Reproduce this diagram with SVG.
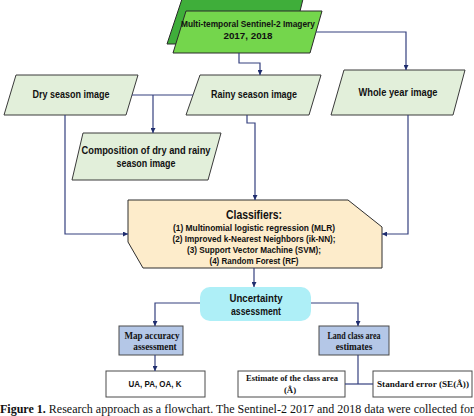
<svg xmlns="http://www.w3.org/2000/svg" width="474" height="416" viewBox="0 0 474 416">
<defs>
<marker id="ah" viewBox="0 0 10 10" refX="10" refY="5" markerWidth="5" markerHeight="5" orient="auto" markerUnits="userSpaceOnUse">
<path d="M0,0 L10,5 L0,10 z" fill="#1f2d6e"/>
</marker>
<style>
.sans{font-family:"Liberation Sans",Arial,sans-serif;font-weight:bold;fill:#111;text-anchor:middle}
.serif{font-family:"Liberation Serif","Times New Roman",serif;font-weight:bold;fill:#111;text-anchor:middle}
.season{fill:#e2efda;stroke:#3a3a3a;stroke-width:1}
.blue{fill:#b4c7e7;stroke:#4a4a4a;stroke-width:1}
.white{fill:#ffffff;stroke:#4a4a4a;stroke-width:1}
.conn{fill:none;stroke:#34407f;stroke-width:1.2}
</style>
</defs>
<rect width="474" height="416" fill="#ffffff"/>

<g id="sentinel">
<polygon points="182,-1 303,-1 292,44 167,44" fill="#3fae3a" stroke="#2a2a2a" stroke-width="1"/>
<polygon points="186,11 322,11 310,53 173,53" fill="#74d64c" stroke="#2a2a2a" stroke-width="1"/>
<text class="sans" x="248" y="27" font-size="9.8" textLength="134" lengthAdjust="spacingAndGlyphs">Multi-temporal Sentinel-2 Imagery</text>
<text class="sans" x="248" y="39" font-size="9.8">2017, 2018</text>
</g>

<g id="dry">
<polygon points="16,75 138,75 126,115 4,115" class="season"/>
<text class="sans" x="71" y="98" font-size="10" textLength="77" lengthAdjust="spacingAndGlyphs">Dry season image</text>
</g>

<g id="rainy">
<polygon points="200,75 321,75 309,115 186,115" class="season"/>
<text class="sans" x="254" y="98" font-size="10" textLength="86" lengthAdjust="spacingAndGlyphs">Rainy season image</text>
</g>

<g id="wholeyear">
<polygon points="344,70 465,70 453,115 331,115" class="season"/>
<text class="sans" x="398" y="96" font-size="10" textLength="79" lengthAdjust="spacingAndGlyphs">Whole year image</text>
</g>

<g id="composition">
<polygon points="83,133 221,133 208,180 72,180" class="season"/>
<text class="sans" x="146" y="154" font-size="10" textLength="129" lengthAdjust="spacingAndGlyphs">Composition of dry and rainy</text>
<text class="sans" x="146" y="167" font-size="10" textLength="59" lengthAdjust="spacingAndGlyphs">season image</text>
</g>

<g id="classifiers">
<polygon points="128,200 348,200 382,227 382,268 143,268 128,242" fill="#fdeccb" stroke="#2f2f2f" stroke-width="1"/>
<text class="sans" x="254" y="219" font-size="12.5" textLength="56" lengthAdjust="spacingAndGlyphs">Classifiers:</text>
<text class="sans" x="254" y="231" font-size="9.2" textLength="162" lengthAdjust="spacingAndGlyphs">(1) Multinomial logistic regression (MLR)</text>
<text class="sans" x="254" y="242" font-size="9.2" textLength="163" lengthAdjust="spacingAndGlyphs">(2) Improved k-Nearest Neighbors (ik-NN);</text>
<text class="sans" x="254" y="253" font-size="9.2" textLength="134" lengthAdjust="spacingAndGlyphs">(3) Support Vector Machine (SVM);</text>
<text class="sans" x="254" y="264" font-size="9.2" textLength="89" lengthAdjust="spacingAndGlyphs">(4) Random Forest (RF)</text>
</g>

<g id="uncertainty">
<rect x="200" y="287" width="111" height="34" rx="10" ry="10" fill="#aeeff7"/>
<text class="sans" x="256" y="302" font-size="10" textLength="53" lengthAdjust="spacingAndGlyphs">Uncertainty</text>
<text class="sans" x="256" y="315" font-size="10" textLength="50" lengthAdjust="spacingAndGlyphs">assessment</text>
</g>

<g id="mapaccuracy">
<rect x="119" y="326" width="64" height="29" class="blue"/>
<text class="serif" x="152" y="339" font-size="9.3" textLength="55" lengthAdjust="spacingAndGlyphs">Map accuracy</text>
<text class="serif" x="155" y="350" font-size="9.3">assessment</text>
</g>

<g id="landclass">
<rect x="319" y="326" width="70" height="29" class="blue"/>
<text class="serif" x="354" y="339" font-size="9.3" textLength="53" lengthAdjust="spacingAndGlyphs">Land class area</text>
<text class="serif" x="354" y="350" font-size="9.3">estimates</text>
</g>

<g id="ua">
<rect x="106" y="371" width="99" height="26" class="white"/>
<text class="sans" x="155" y="387" font-size="8.5" textLength="53" lengthAdjust="spacingAndGlyphs">UA, PA, OA, K</text>
</g>

<g id="estimate">
<rect x="238" y="371" width="107" height="26" class="white"/>
<text class="serif" x="292" y="381" font-size="8.8" textLength="92" lengthAdjust="spacingAndGlyphs">Estimate of the class area</text>
<text class="serif" x="290" y="393" font-size="8.8">(Â)</text>
</g>

<g id="stderr">
<rect x="373" y="371" width="99" height="26" class="white"/>
<text class="serif" x="423" y="387" font-size="8.8" textLength="92" lengthAdjust="spacingAndGlyphs">Standard error (SE(Â))</text>
</g>

<g id="connectors">
<path class="conn" d="M239,53 V63 H260 V75" marker-end="url(#ah)"/>
<path class="conn" d="M316,32 H406 V70" marker-end="url(#ah)"/>
<path class="conn" d="M132,95 H193"/>
<path class="conn" d="M153,95 V133" marker-end="url(#ah)"/>
<path class="conn" d="M65,115 V234 H128" marker-end="url(#ah)"/>
<path class="conn" d="M247,115 V123 H255 V200" marker-end="url(#ah)"/>
<path class="conn" d="M408,115 V234 H382" marker-end="url(#ah)"/>
<path class="conn" d="M254,268 V287" marker-end="url(#ah)"/>
<path class="conn" d="M200,303 H155 V326" marker-end="url(#ah)"/>
<path class="conn" d="M311,303 H358 V326" marker-end="url(#ah)"/>
<path class="conn" d="M155,355 V371" marker-end="url(#ah)"/>
<path class="conn" d="M358,355 V384"/>
<path class="conn" d="M345,384 H373"/>
</g>

<text x="0" y="413" font-family="'Liberation Serif','Times New Roman',serif" font-size="11.5" fill="#111" textLength="474" lengthAdjust="spacingAndGlyphs"><tspan font-weight="bold">Figure 1.</tspan> Research approach as a flowchart. The Sentinel-2 2017 and 2018 data were collected for</text>
</svg>
